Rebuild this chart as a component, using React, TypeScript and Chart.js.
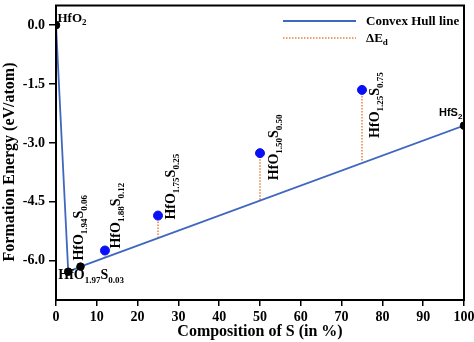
import React, { useEffect, useRef } from "react";
import { Chart, registerables } from "chart.js";

Chart.register(...registerables);

// ---- data ----
const stableNames = ["HfO2", "HfO1.97S0.03", "HfO1.94S0.06", "HfS2"];
const stableX = [0, 3, 6, 100];
const stableY = [0, -6.28, -6.15, -2.56];

const phaseNames = ["HfO1.88S0.12", "HfO1.75S0.25", "HfO1.50S0.50", "HfO1.25S0.75"];
const phaseX = [12, 25, 50, 75];
const phaseY = [-5.74, -4.85, -3.26, -1.65];
const hullAtPhase = [-5.93, -5.41, -4.45, -3.49];

const xTickValues = [0, 10, 20, 30, 40, 50, 60, 70, 80, 90, 100];
const yTickValues = [0, -1.5, -3, -4.5, -6];

const xTitle = "Composition of S (in %)";
const yTitle = "Formation Energy (eV/atom)";
const legendLabels = ["Convex Hull line", "\u0394Ed"];

// ---- styles ----
const HULL_COLOR = "#3f67bf";
const DE_COLOR = "#e8823a";
const PHASE_COLOR = "#0a10f5";
const SERIF = "'Liberation Serif', 'Times New Roman', serif";
const SANS = "'Liberation Sans', Arial, sans-serif";

// label placement: pixel offsets from the point; rot = vertical text
const stableLabelStyle = [
  { dx: 1.5, dy: -3, rot: false, size: 13, sub: 9, shift: 3, family: SERIF },
  { dx: -10, dy: 7, rot: false, size: 14, sub: 9, shift: 4, family: SERIF },
  { dx: 3, dy: -6, rot: true, size: 14, sub: 9, shift: 4, family: SERIF },
  { dx: -25, dy: -10, rot: false, size: 11, sub: 8, shift: 3, family: SANS },
];
const phaseLabelStyle = [
  { dx: 15, dy: -2, rot: true, size: 14, sub: 9, shift: 4, family: SERIF },
  { dx: 17, dy: 4, rot: true, size: 14, sub: 9, shift: 4, family: SERIF },
  { dx: 18, dy: 27, rot: true, size: 14, sub: 9, shift: 4, family: SERIF },
  { dx: 17, dy: 48, rot: true, size: 14, sub: 9, shift: 4, family: SERIF },
];

function drawFormula(
  ctx: CanvasRenderingContext2D,
  text: string,
  x: number,
  y: number,
  st: { rot: boolean; size: number; sub: number; shift: number; family: string }
) {
  const parts = text.split(/([0-9.]+)/).filter((p) => p.length > 0);
  ctx.save();
  ctx.translate(x, y);
  if (st.rot) ctx.rotate(-Math.PI / 2);
  ctx.textAlign = "left";
  ctx.textBaseline = "alphabetic";
  ctx.fillStyle = "#000";
  let cx = 0;
  for (const p of parts) {
    const isSub = /^[0-9.]+$/.test(p);
    ctx.font = `bold ${isSub ? st.sub : st.size}px ${st.family}`;
    ctx.fillText(p, cx, isSub ? st.shift : 0);
    cx += ctx.measureText(p).width;
  }
  ctx.restore();
}

const overlayPlugin = {
  id: "overlay",
  afterDatasetsDraw(chart: any) {
    const ctx: CanvasRenderingContext2D = chart.ctx;
    const xs = chart.scales.x;
    const ys = chart.scales.y;
    const area = chart.chartArea;

    // labels
    stableNames.forEach((n, i) => {
      const st = stableLabelStyle[i];
      const px = xs.getPixelForValue(stableX[i]);
      const py = ys.getPixelForValue(stableY[i]);
      drawFormula(ctx, n, px + st.dx, py + st.dy, st);
    });
    phaseNames.forEach((n, i) => {
      const st = phaseLabelStyle[i];
      const px = xs.getPixelForValue(phaseX[i]);
      const py = ys.getPixelForValue(phaseY[i]);
      drawFormula(ctx, n, px + st.dx, py + st.dy, st);
    });

    // legend
    ctx.save();
    ctx.strokeStyle = HULL_COLOR;
    ctx.lineWidth = 1.8;
    ctx.beginPath();
    ctx.moveTo(283, 21);
    ctx.lineTo(356, 21);
    ctx.stroke();
    ctx.strokeStyle = DE_COLOR;
    ctx.lineWidth = 1.5;
    ctx.setLineDash([1.5, 1.5]);
    ctx.beginPath();
    ctx.moveTo(283, 38);
    ctx.lineTo(356, 38);
    ctx.stroke();
    ctx.setLineDash([]);
    ctx.fillStyle = "#000";
    ctx.font = `bold 13px ${SERIF}`;
    ctx.textBaseline = "alphabetic";
    ctx.textAlign = "left";
    ctx.fillText(legendLabels[0], 366, 25);
    const de = legendLabels[1];
    ctx.fillText(de.slice(0, 2), 366, 42);
    const w = ctx.measureText(de.slice(0, 2)).width;
    ctx.font = `bold 9px ${SERIF}`;
    ctx.fillText(de.slice(2), 366 + w, 45);
    ctx.restore();

    // frame
    ctx.save();
    ctx.strokeStyle = "#000";
    ctx.lineWidth = 2;
    ctx.strokeRect(area.left, area.top, area.right - area.left, area.bottom - area.top);
    ctx.restore();

    // axis titles
    ctx.save();
    ctx.fillStyle = "#000";
    ctx.font = `bold 16px ${SERIF}`;
    ctx.textAlign = "center";
    ctx.textBaseline = "middle";
    ctx.fillText(xTitle, (area.left + area.right) / 2, 332);
    ctx.translate(10, 162);
    ctx.rotate(-Math.PI / 2);
    ctx.fillText(yTitle, 0, 0);
    ctx.restore();
  },
};

export default function App() {
  const ref = useRef<HTMLCanvasElement | null>(null);

  useEffect(() => {
    document.body.style.margin = "0";
    const canvas = ref.current;
    if (!canvas) return;

    const hullData = stableX.map((x, i) => ({ x, y: stableY[i] }));
    const deData: { x: number; y: number | null }[] = [];
    phaseX.forEach((x, i) => {
      deData.push({ x, y: phaseY[i] });
      deData.push({ x, y: hullAtPhase[i] });
      deData.push({ x, y: null });
    });

    const tickFont = { family: SERIF, size: 14, weight: "bold" as const };

    const chart = new Chart(canvas, {
      type: "scatter",
      data: {
        datasets: [
          {
            label: "stable",
            data: stableX.map((x, i) => ({ x, y: stableY[i] })),
            backgroundColor: "#000",
            borderColor: "#000",
            pointRadius: 3.8,
            order: 0,
          },
          {
            label: "phases",
            data: phaseX.map((x, i) => ({ x, y: phaseY[i] })),
            backgroundColor: PHASE_COLOR,
            borderColor: PHASE_COLOR,
            pointRadius: 4.5,
            order: 1,
          },
          {
            type: "line",
            label: legendLabels[0],
            data: hullData,
            borderColor: HULL_COLOR,
            borderWidth: 1.8,
            pointRadius: 0,
            fill: false,
            tension: 0,
            order: 2,
          } as any,
          {
            type: "line",
            label: legendLabels[1],
            data: deData,
            borderColor: DE_COLOR,
            borderWidth: 1.5,
            borderDash: [1.5, 1.5],
            pointRadius: 0,
            spanGaps: false,
            fill: false,
            order: 3,
          } as any,
        ],
      },
      options: {
        responsive: false,
        animation: false,
        layout: { padding: { left: 0, top: 1, right: 10, bottom: 0 } },
        plugins: {
          legend: { display: false },
          tooltip: { enabled: false },
        },
        scales: {
          x: {
            type: "linear",
            min: 0,
            max: 100,
            afterFit: (s: any) => {
              s.height = 42;
              s.paddingLeft = 0;
              s.paddingRight = 0;
            },
            afterBuildTicks: (s: any) => {
              s.ticks = xTickValues.map((v) => ({ value: v }));
            },
            ticks: {
              color: "#000",
              font: tickFont,
              padding: 3,
              maxRotation: 0,
              autoSkip: false,
            },
            grid: {
              display: true,
              drawOnChartArea: false,
              drawTicks: true,
              tickLength: 6,
              color: "#000",
              lineWidth: 1.5,
            },
            border: { display: false },
          },
          y: {
            type: "linear",
            min: -7,
            max: 0.5,
            afterFit: (s: any) => {
              s.width = 56;
              s.paddingTop = 0;
              s.paddingBottom = 0;
            },
            afterBuildTicks: (s: any) => {
              s.ticks = yTickValues.map((v) => ({ value: v }));
            },
            ticks: {
              color: "#000",
              font: tickFont,
              padding: 4,
              autoSkip: false,
              callback: (v: any) => Number(v).toFixed(1),
            },
            grid: {
              display: true,
              drawOnChartArea: false,
              drawTicks: true,
              tickLength: 7,
              color: "#000",
              lineWidth: 1.5,
            },
            border: { display: false },
          },
        },
      },
      plugins: [overlayPlugin],
    });

    return () => chart.destroy();
  }, []);

  return (
    <div style={{ width: 474, height: 342, background: "#fff" }}>
      <canvas ref={ref} width={474} height={342} style={{ display: "block" }} />
    </div>
  );
}
